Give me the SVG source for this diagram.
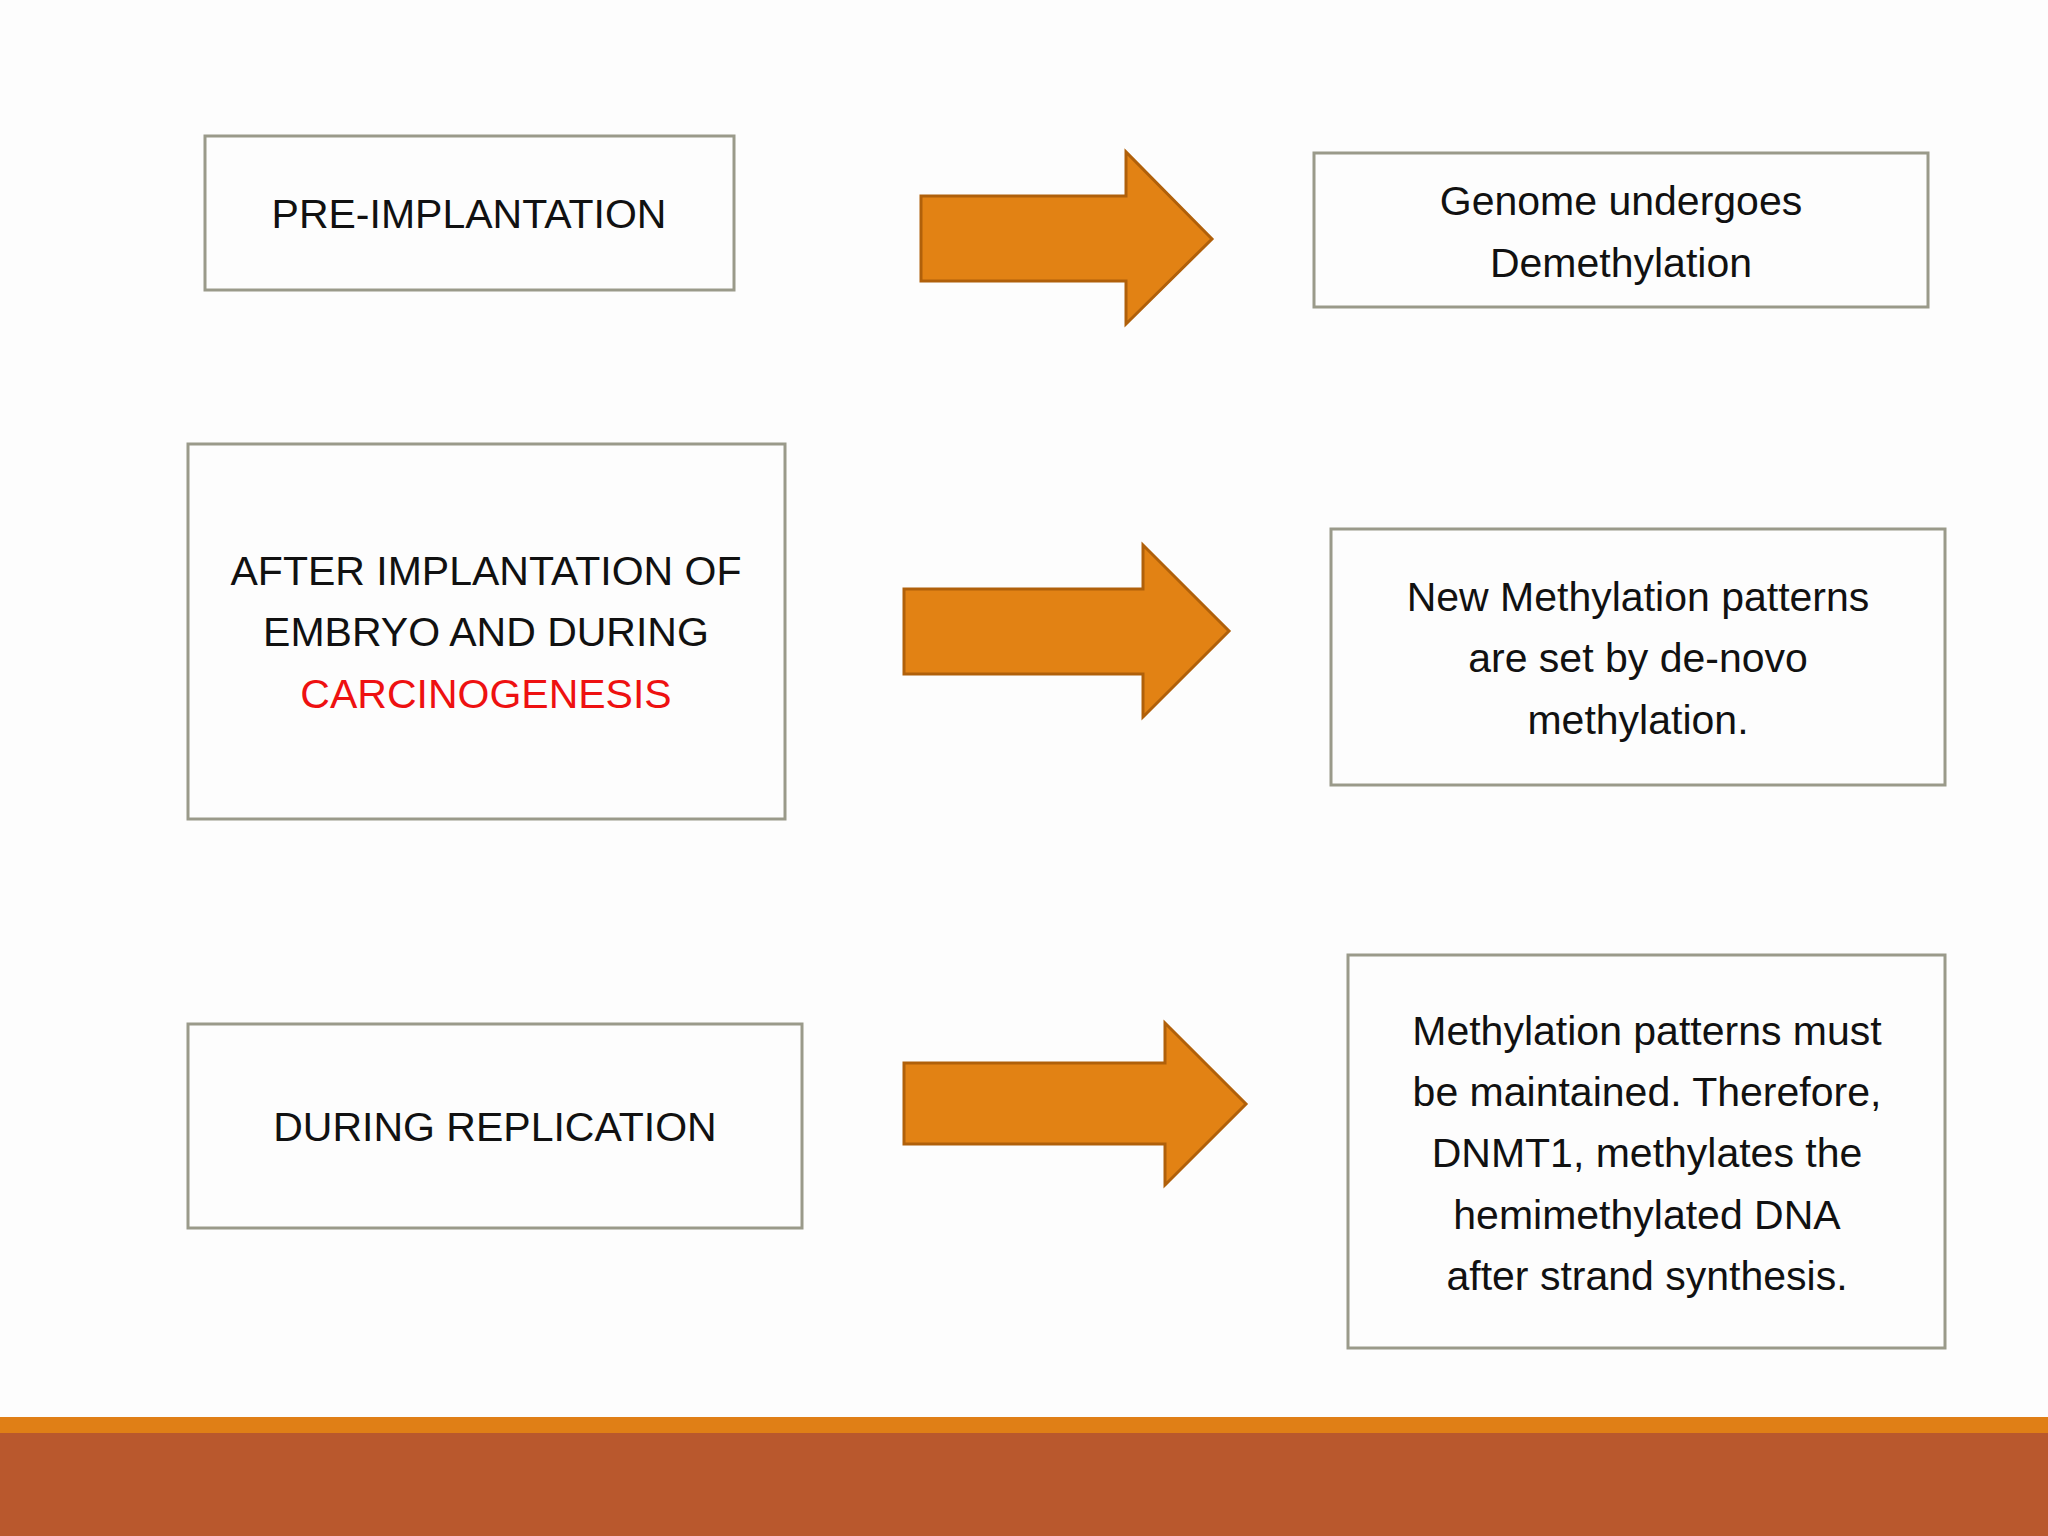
<svg xmlns="http://www.w3.org/2000/svg" width="2048" height="1536" viewBox="0 0 2048 1536">
<style>
.box{fill:#fdfdfd;stroke:#9a9a8a;stroke-width:3}
.arr{fill:#e28214;stroke:#b0600a;stroke-width:3}
text{font-family:"Liberation Sans",Arial,sans-serif;font-size:41px;fill:#111;text-anchor:middle;dominant-baseline:central}
</style>
<rect width="2048" height="1536" fill="#fdfdfd"/>
<g id="n1"><rect class="box" x="205" y="136" width="529" height="154"/><text x="469" y="214">PRE-IMPLANTATION</text></g>
<g id="n2"><rect class="box" x="1314" y="153" width="614" height="154"/><text x="1621" y="201">Genome undergoes</text><text x="1621" y="263">Demethylation</text></g>
<g id="n3"><rect class="box" x="188" y="444" width="597" height="375"/><text x="486" y="571">AFTER IMPLANTATION OF</text><text x="486" y="632">EMBRYO AND DURING</text><text x="486" y="694" style="fill:#ee1111">CARCINOGENESIS</text></g>
<g id="n4"><rect class="box" x="1331" y="529" width="614" height="256"/><text x="1638" y="597">New Methylation patterns</text><text x="1638" y="658">are set by de-novo</text><text x="1638" y="720">methylation.</text></g>
<g id="n5"><rect class="box" x="188" y="1024" width="614" height="204"/><text x="495" y="1127">DURING REPLICATION</text></g>
<g id="n6"><rect class="box" x="1348" y="955" width="597" height="393"/><text x="1647" y="1031">Methylation patterns must</text><text x="1647" y="1092">be maintained. Therefore,</text><text x="1647" y="1153">DNMT1, methylates the</text><text x="1647" y="1215">hemimethylated DNA</text><text x="1647" y="1276">after strand synthesis.</text></g>
<g id="connectors">
<polygon class="arr" points="921,196 1126,196 1126,152 1212,239 1126,324 1126,281 921,281"/>
<polygon class="arr" points="904,589 1143,589 1143,545 1229,631 1143,717 1143,674 904,674"/>
<polygon class="arr" points="904,1063 1165,1063 1165,1023 1246,1104 1165,1185 1165,1144 904,1144"/>
</g>
<rect x="0" y="1417" width="2048" height="16" fill="#e07f16"/>
<rect x="0" y="1433" width="2048" height="103" fill="#b9582d"/>
</svg>
